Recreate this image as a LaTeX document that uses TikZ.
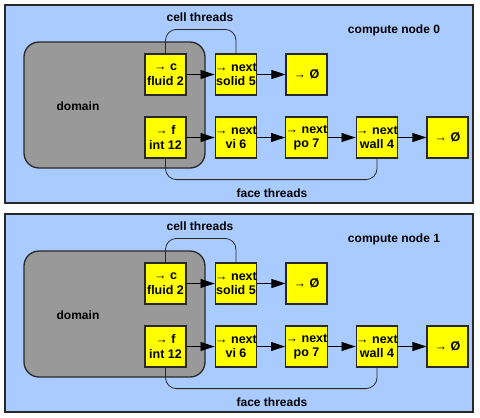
\documentclass[tikz,border=0pt]{standalone}
\usepackage{fontspec}
\setmainfont{Liberation Sans}
\usetikzlibrary{arrows.meta}
\definecolor{bluebg}{RGB}{170,203,255}
\definecolor{graydom}{RGB}{153,153,153}
\definecolor{edge}{RGB}{40,40,40}
\definecolor{boxyellow}{RGB}{255,255,0}
\tikzset{
 panel/.style={draw=edge, line width=1.3pt, fill=bluebg, minimum width=468pt, minimum height=198pt, inner sep=0pt},
 dom/.style={draw=edge, line width=1.3pt, fill=graydom, rounded corners=15pt, minimum width=181pt, minimum height=126pt, inner sep=0pt},
 cellbox/.style={draw=edge, line width=1.2pt, fill=boxyellow, minimum width=41pt, minimum height=41pt, inner sep=0pt, align=center, font=\bfseries\fontsize{12.5}{14.5}\selectfont},
 link/.style={-{Triangle[length=14pt,width=9pt]}, line width=0.8pt, draw=black},
 thread/.style={line width=0.8pt, rounded corners=11pt, draw=edge},
 lbl/.style={font=\bfseries\fontsize{12}{14}\selectfont, inner sep=0pt}
}
\newcommand{\ar}{{\mdseries →}}
\begin{document}
\begin{tikzpicture}[x=1pt,y=-1pt]
\useasboundingbox (0,0) rectangle (480,418);
\foreach \n/\oy in {0/0,1/209}{
\begin{scope}[yshift={-\oy pt}]
 \node[panel] (panel\n) at (239,104) {};
 \node[dom] (dom\n) at (114.5,105) {};
 \node[lbl] (domlbl\n) at (78,106) {domain};
 \node[lbl] (cnlbl\n) at (394,30) {compute node \n};
 \node[lbl] (ctlbl\n) at (200,17) {cell threads};
 \node[lbl] (ftlbl\n) at (272,193) {face threads};
 \node[cellbox] (c\n) at (165.5,74.5) {\ar\ c\\fluid 2};
 \node[cellbox] (s\n) at (236,74.5) {\ar\ next\\solid 5};
 \node[cellbox] (e\n) at (306.5,74.5) {\ar\ Ø};
 \node[cellbox] (f\n) at (165.5,137.5) {\ar\ f\\int 12};
 \node[cellbox] (v\n) at (236,137.5) {\ar\ next\\vi 6};
 \node[cellbox] (p\n) at (306.5,137.5) {\ar\ next\\po 7};
 \node[cellbox] (w\n) at (377,137.5) {\ar\ next\\wall 4};
 \node[cellbox] (z\n) at (447.5,137.5) {\ar\ Ø};
 \draw[link] (c\n) -- (s\n);
 \draw[link] (s\n) -- (e\n);
 \draw[link] (f\n) -- (v\n);
 \draw[link] (v\n) -- (p\n);
 \draw[link] (p\n) -- (w\n);
 \draw[link] (w\n) -- (z\n);
 \draw[thread] (c\n.north) -- ++(0,-24) -| (s\n.north);
 \draw[thread] (f\n.south) -- ++(0,21) -| (w\n.south);
\end{scope}
}
\end{tikzpicture}
\end{document}
